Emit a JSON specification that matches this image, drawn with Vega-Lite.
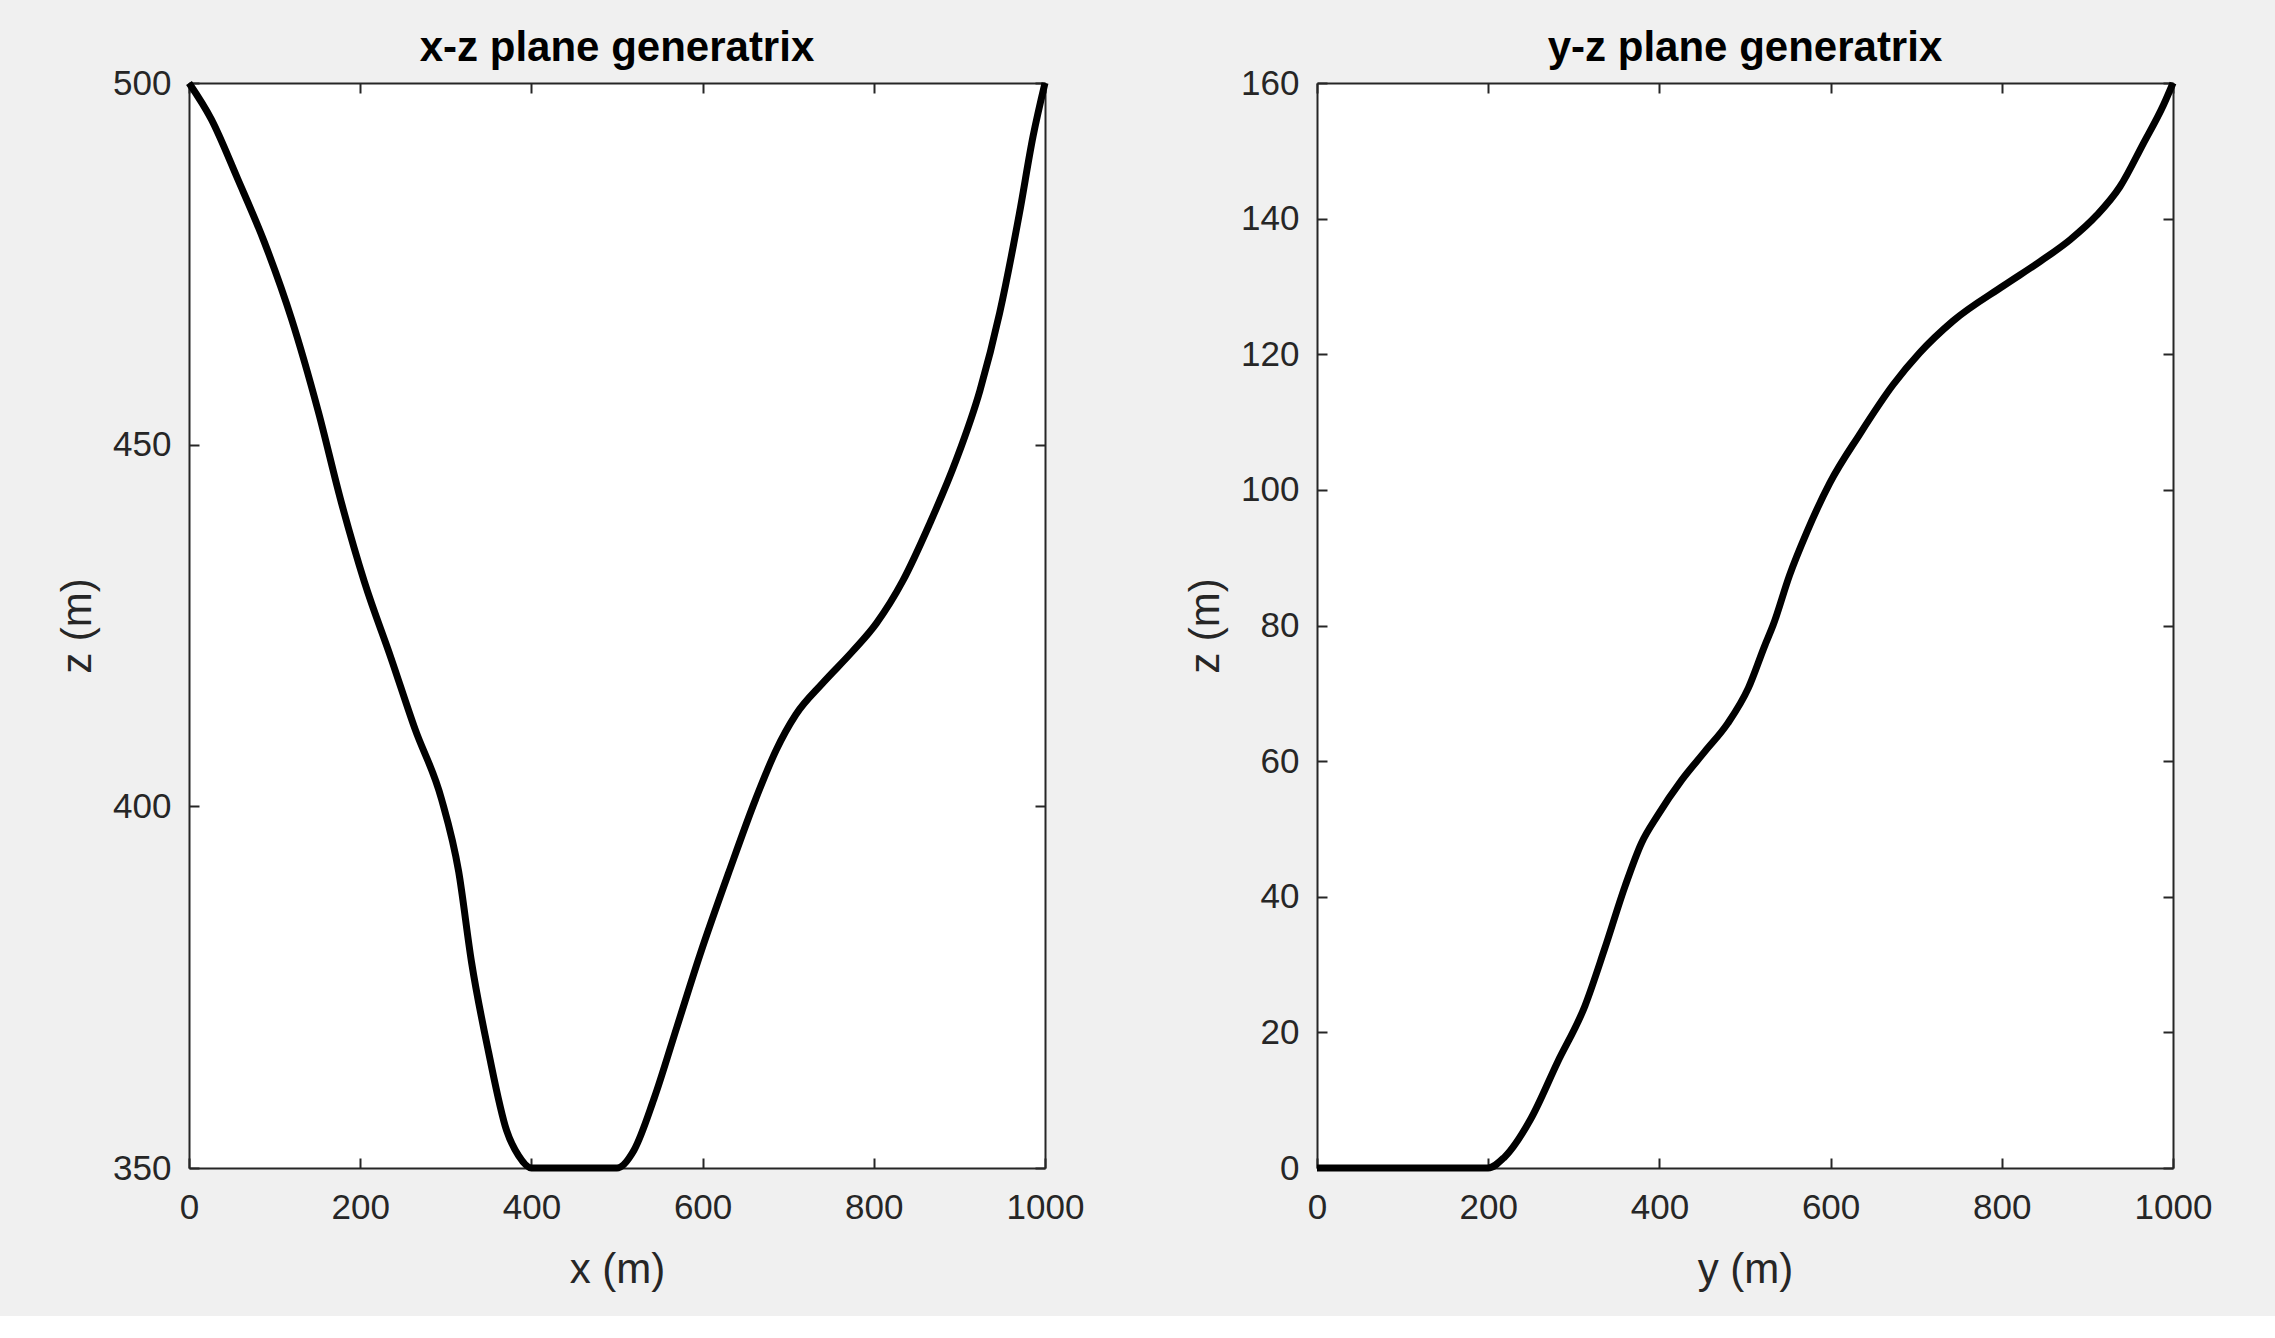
{
  "$schema": "https://vega.github.io/schema/vega-lite/v6.json",
  "background": "#f0f0f0",
  "padding": {"left": 56, "top": 27, "right": 82, "bottom": 26},
  "datasets": {
    "xz": [
      {"x": 0, "z": 500}, {"x": 26, "z": 495}, {"x": 57, "z": 486.7}, {"x": 88, "z": 478},
      {"x": 120, "z": 467.3}, {"x": 151, "z": 454.6}, {"x": 178, "z": 442}, {"x": 205, "z": 431},
      {"x": 236, "z": 420.5}, {"x": 264, "z": 410.7}, {"x": 295, "z": 401}, {"x": 315, "z": 391},
      {"x": 330, "z": 378.5}, {"x": 350, "z": 366}, {"x": 371, "z": 355.2}, {"x": 385, "z": 351.7},
      {"x": 400, "z": 350}, {"x": 500, "z": 350}, {"x": 520, "z": 352.5}, {"x": 543, "z": 359.5},
      {"x": 570, "z": 369.5}, {"x": 597, "z": 379.5}, {"x": 631, "z": 391}, {"x": 662, "z": 401},
      {"x": 686, "z": 407.8}, {"x": 709, "z": 412.7}, {"x": 740, "z": 417}, {"x": 775, "z": 421.4},
      {"x": 803, "z": 425.3}, {"x": 834, "z": 431.2}, {"x": 865, "z": 439}, {"x": 896, "z": 447.8},
      {"x": 924, "z": 457.5}, {"x": 947, "z": 468.2}, {"x": 970, "z": 481.9}, {"x": 986, "z": 492.6},
      {"x": 1000, "z": 500}
    ],
    "yz": [
      {"y": 0, "z": 0}, {"y": 200, "z": 0}, {"y": 219, "z": 1.6}, {"y": 250, "z": 7.3},
      {"y": 281, "z": 15.6}, {"y": 313, "z": 23.9}, {"y": 336, "z": 32.3}, {"y": 360, "z": 41.6},
      {"y": 379, "z": 47.9}, {"y": 398, "z": 52}, {"y": 426, "z": 57.2}, {"y": 453, "z": 61.4},
      {"y": 480, "z": 65.6}, {"y": 504, "z": 70.8}, {"y": 523, "z": 77}, {"y": 533, "z": 80.1},
      {"y": 552, "z": 87.4}, {"y": 572, "z": 93.7}, {"y": 599, "z": 101}, {"y": 634, "z": 108.2},
      {"y": 673, "z": 115.5}, {"y": 704, "z": 120.2}, {"y": 743, "z": 124.9}, {"y": 802, "z": 130.1},
      {"y": 845, "z": 133.7}, {"y": 880, "z": 136.9}, {"y": 911, "z": 140.5}, {"y": 938, "z": 144.7},
      {"y": 965, "z": 151}, {"y": 989, "z": 156.8}, {"y": 1000, "z": 160}
    ]
  },
  "spacing": 100,
  "hconcat": [
    {
      "width": 856,
      "height": 1085,
      "title": "x-z plane generatrix",
      "data": {"name": "xz"},
      "layer": [
        {
          "mark": {"type": "line", "color": "black", "strokeWidth": 7, "interpolate": "monotone", "clip": false},
          "encoding": {
            "x": {"field": "x", "type": "quantitative", "scale": {"domain": [0, 1000], "nice": false},
                  "axis": {"orient": "bottom", "title": "x (m)", "format": "d", "values": [0, 200, 400, 600, 800, 1000]}},
            "y": {"field": "z", "type": "quantitative", "scale": {"domain": [350, 500], "nice": false, "zero": false},
                  "axis": {"orient": "left", "title": "z (m)", "format": "d", "values": [350, 400, 450, 500]}}
          }
        },
        {
          "mark": {"type": "line", "opacity": 0},
          "encoding": {
            "x": {"field": "x", "type": "quantitative",
                  "axis": {"orient": "top", "labels": false, "title": null, "values": [0, 200, 400, 600, 800, 1000]}},
            "y": {"field": "z", "type": "quantitative",
                  "axis": {"orient": "right", "labels": false, "title": null, "values": [350, 400, 450, 500]}}
          }
        }
      ],
      "resolve": {"axis": {"x": "independent", "y": "independent"}}
    },
    {
      "width": 856,
      "height": 1085,
      "title": "y-z plane generatrix",
      "data": {"name": "yz"},
      "layer": [
        {
          "mark": {"type": "line", "color": "black", "strokeWidth": 7, "interpolate": "monotone", "clip": false},
          "encoding": {
            "x": {"field": "y", "type": "quantitative", "scale": {"domain": [0, 1000], "nice": false},
                  "axis": {"orient": "bottom", "title": "y (m)", "format": "d", "values": [0, 200, 400, 600, 800, 1000]}},
            "y": {"field": "z", "type": "quantitative", "scale": {"domain": [0, 160], "nice": false},
                  "axis": {"orient": "left", "title": "z (m)", "format": "d", "values": [0, 20, 40, 60, 80, 100, 120, 140, 160]}}
          }
        },
        {
          "mark": {"type": "line", "opacity": 0},
          "encoding": {
            "x": {"field": "y", "type": "quantitative",
                  "axis": {"orient": "top", "labels": false, "title": null, "values": [0, 200, 400, 600, 800, 1000]}},
            "y": {"field": "z", "type": "quantitative",
                  "axis": {"orient": "right", "labels": false, "title": null, "values": [0, 20, 40, 60, 80, 100, 120, 140, 160]}}
          }
        }
      ],
      "resolve": {"axis": {"x": "independent", "y": "independent"}}
    }
  ],
  "config": {
    "font": "Liberation Sans",
    "view": {"fill": "white", "stroke": null},
    "axis": {
      "grid": false,
      "domainColor": "#262626",
      "domainWidth": 2,
      "tickColor": "#262626",
      "tickWidth": 2,
      "tickSize": -10,
      "labelColor": "#262626",
      "labelFont": "Liberation Sans",
      "labelFontSize": 35,
      "labelFlush": false,
      "labelOverlap": false,
      "titleFont": "Liberation Sans",
      "titleFontSize": 42,
      "titleFontWeight": "normal",
      "titleColor": "#262626"
    },
    "axisX": {"labelPadding": 32, "titlePadding": 24},
    "axisY": {"labelPadding": 28, "titlePadding": 13},
    "title": {"font": "Liberation Sans", "fontSize": 42, "fontWeight": "bold", "color": "black", "offset": -4}
  }
}
